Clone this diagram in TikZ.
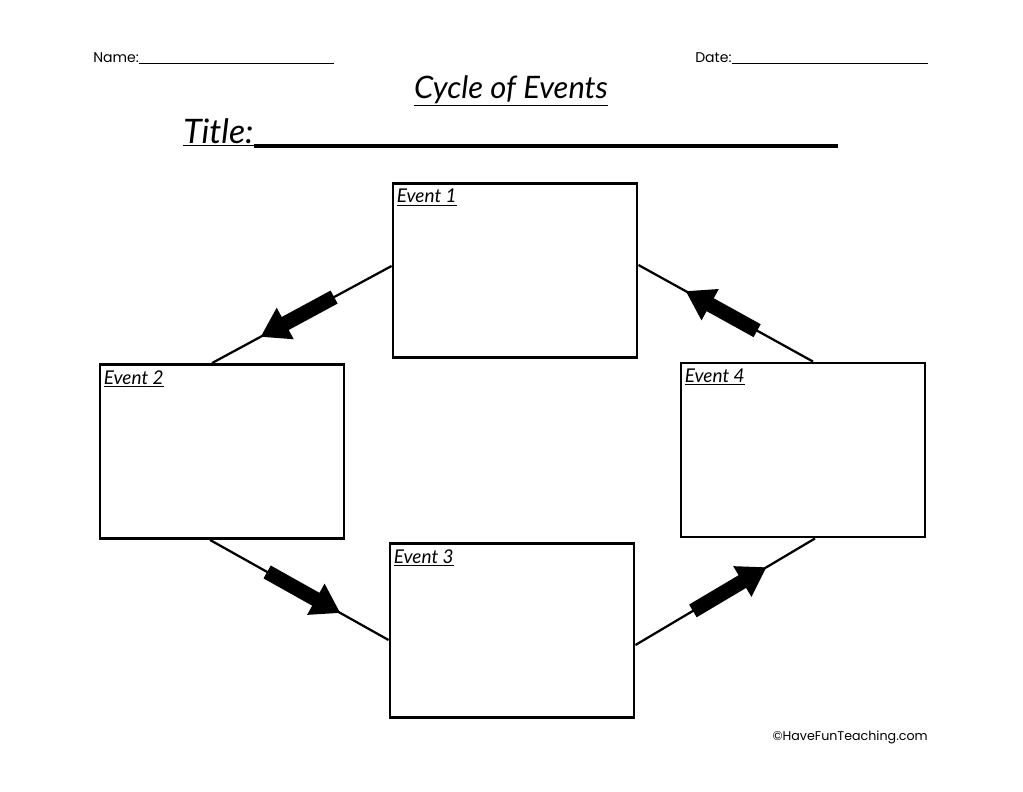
\documentclass[tikz,border=0pt]{standalone}
\usepackage{fontspec}
\usetikzlibrary{arrows.meta,calc}
\newfontfamily\roundfont{Poppins}
\newfontfamily\handfont{Lato}

\tikzset{
  evbox/.style={draw, line width=2pt, minimum width=6.1cm, minimum height=4.35cm, inner sep=0pt},
  evlabel/.style={anchor=north west, inner sep=0pt, font=\handfont\itshape\fontsize{13.5}{16}\selectfont},
  link/.style={line width=1.6pt},
  fatarrow/.style={line width=10.5pt, -{Triangle[length=20pt,width=24pt]}}
}

\begin{document}
\begin{tikzpicture}[x=0.025cm, y=-0.025cm]
\useasboundingbox (0,0) rectangle (1023,791);
\fill[white] (0,0) rectangle (1023,791);

% header
\node[anchor=base west, inner sep=0pt, font=\roundfont\fontsize{10}{12}\selectfont] (name) at (93,62) {Name:\rule[-1.5pt]{4.875cm}{0.5pt}};
\node[anchor=base west, inner sep=0pt, font=\roundfont\fontsize{10}{12}\selectfont] (date) at (695,62) {Date:\rule[-1.5pt]{4.9cm}{0.5pt}};
\node[anchor=base, inner sep=0pt, font=\handfont\itshape\fontsize{22}{26}\selectfont] (head) at (511,98) {\underline{Cycle of Events}};
\node[anchor=base west, inner sep=0pt, font=\handfont\itshape\fontsize{24}{29}\selectfont] (title) at (183,143) {\underline{Title:}\rule[-3.5pt]{14.6cm}{3pt}};

% boxes
\node[evbox] (e1) at (515,270.5) {};
\node[evbox] (e2) at (222,451.5) {};
\node[evbox] (e3) at (512,630.5) {};
\node[evbox] (e4) at (803,450) {};
\foreach \n/\t in {e1/Event 1,e2/Event 2,e3/Event 3,e4/Event 4}
  \node[evlabel] (\n lab) at ([shift={(5,7)}]\n.north west) {\underline{\t}};

% cycle links
\coordinate (c1) at ([shift={(0,-4.5)}]e1.west);
\coordinate (c2) at ([shift={(-10,0)}]e2.north);
\coordinate (c3) at ([shift={(-12,0)}]e2.south);
\coordinate (c4) at ([shift={(0,9.5)}]e3.west);
\coordinate (c5) at ([shift={(0,14.5)}]e3.east);
\coordinate (c6) at ([shift={(12,0)}]e4.south);
\coordinate (c7) at ([shift={(10,0)}]e4.north);
\coordinate (c8) at ([shift={(0,-5.5)}]e1.east);
\foreach \a/\b in {c1/c2,c3/c4,c5/c6,c7/c8}{
  \draw[link] (\a) -- (\b);
  \draw[fatarrow] ($(\a)!0.32!(\b)$) -- ($(\a)!0.73!(\b)$);
}

\node[anchor=base east, inner sep=0pt, font=\roundfont\fontsize{9}{11}\selectfont] (copy) at (928,740) {©HaveFunTeaching.com};
\end{tikzpicture}
\end{document}
